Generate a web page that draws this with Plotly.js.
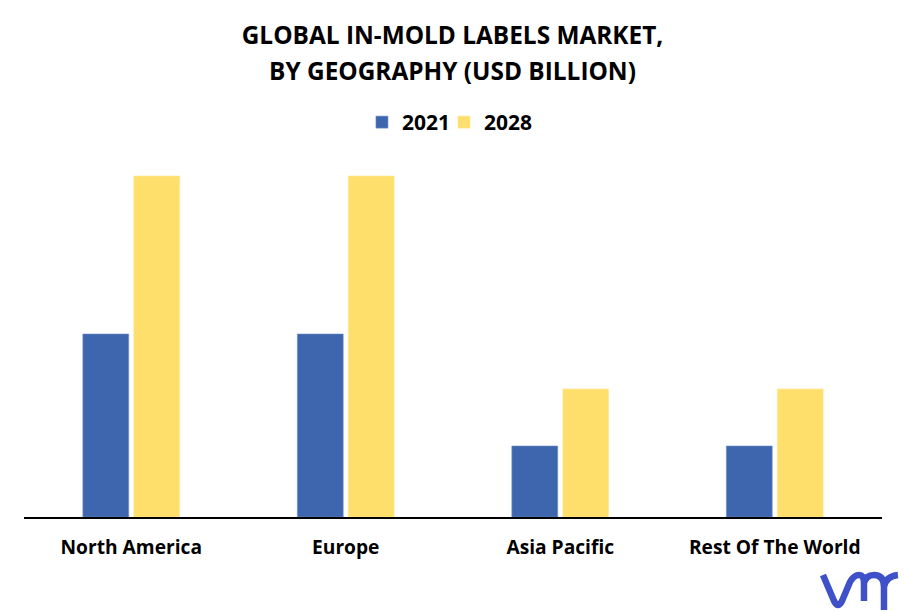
<!DOCTYPE html>
<html><head><meta charset="utf-8">
<script src="https://cdn.plot.ly/plotly-3.0.1.min.js"></script>
<style>html,body{margin:0;padding:0;background:#fff}</style></head>
<body><div id="chart" style="width:905px;height:612px"></div>
<script>
const categories = ["North America", "Europe", "Asia Pacific", "Rest Of The World"];
const values2021 = [1.83, 1.83, 0.71, 0.71];
const values2028 = [3.41, 3.41, 1.28, 1.28];
const W = 905, H = 612, L = 24, R = 882, T = 150, B = 517;
const px = x => ((x - L) / (R - L)).toFixed(4);
const py = y => ((B - y) / (B - T)).toFixed(4);
const P = (x, y) => px(x) + "," + py(y);
const logoPath = "M" + P(823,575) + " L" + P(834,601) + " Q" + P(838,609) + " " + P(842,601) +
  " L" + P(850,582) + " Q" + P(854,575) + " " + P(859,575) + " Q" + P(864,575) + " " + P(864,583) + " L" + P(864,601) +
  " M" + P(864,583) + " Q" + P(866,575) + " " + P(874,575) + " Q" + P(884,575) + " " + P(884,587) + " L" + P(884,610) +
  " M" + P(884,587) + " Q" + P(886,576) + " " + P(898,575);
const font = '"Open Sans", "Noto Sans", sans-serif';
const titleStyle = '<span style="font-size:24.4px">';
const legendFont = {family:font, size:21, weight:"bold", color:"#000"};
const clear = "rgba(0,0,0,0)";
Plotly.newPlot("chart", [
  {type:"bar", name:"2021", x:categories, y:values2021, legend:"legend", marker:{color:"#3d66ae", line:{color:"#6f8fc8", width:0.6}}},
  {type:"bar", name:"2028", x:categories, y:values2028, legend:"legend2", marker:{color:"#ffdf6b", line:{color:"#ffe999", width:0.6}}}
], {
  width:W, height:H, paper_bgcolor:"#fff", plot_bgcolor:"#fff",
  margin:{l:L, r:W-R, t:T, b:H-B, pad:0},
  barmode:"group", bargap:0.525, bargroupgap:0.1, showlegend:true,
  font:{family:font, color:"#000"},
  title:{text:titleStyle + "GLOBAL IN-MOLD LABELS MARKET,</span><br>" + titleStyle + "BY GEOGRAPHY (USD BILLION)</span>",
    x:0.5, xanchor:"center", y:0.928, yanchor:"middle",
    font:{family:font, size:27.7, weight:"bold", color:"#000"}},
  legend:{orientation:"h", x:+px(362), xanchor:"left", y:1.075, yanchor:"middle", bgcolor:clear, font:legendFont, itemclick:false},
  legend2:{orientation:"h", x:+px(444), xanchor:"left", y:1.075, yanchor:"middle", bgcolor:clear, font:legendFont, itemclick:false},
  xaxis:{type:"category", showgrid:false, zeroline:false, showline:true, linecolor:"#000", linewidth:2, ticks:"",
    tickfont:{family:font, size:19.2, weight:"bold", color:"#000"}, automargin:false, ticklen:0, ticklabelstandoff:12},
  yaxis:{range:[0,3.67], visible:false, showgrid:false, zeroline:false, fixedrange:true},
  shapes:[{type:"path", xref:"paper", yref:"paper", path:logoPath, line:{color:"#3f51c8", width:6.5}, fillcolor:clear}]
}, {displayModeBar:false, responsive:false});
</script></body></html>
